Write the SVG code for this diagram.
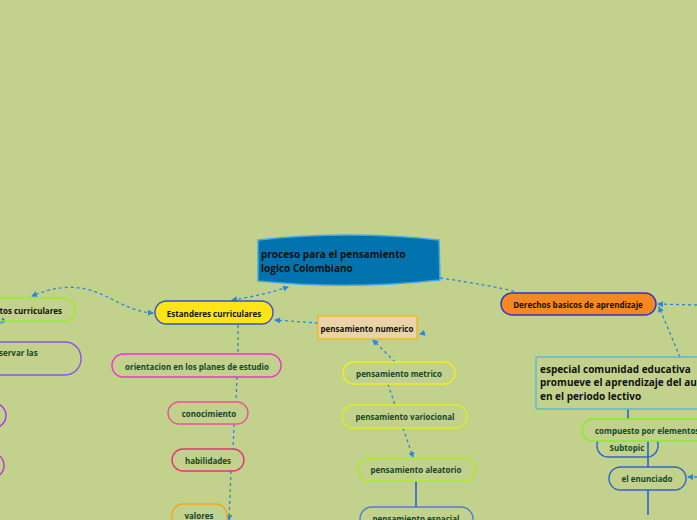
<svg xmlns="http://www.w3.org/2000/svg" width="697" height="520" viewBox="0 0 697 520">
<defs>
<marker id="ar" viewBox="0 0 6 6" refX="5" refY="3" markerWidth="6" markerHeight="6" orient="auto-start-reverse" markerUnits="userSpaceOnUse">
<path d="M0,0 L6,3 L0,6 Z" fill="#2f86d8"/>
</marker>
<style>
.t{font-family:"Open Sans","Noto Sans",sans-serif;font-weight:700;font-size:8px;fill:#17462a;text-anchor:middle;dominant-baseline:central}
.tb{fill:#111}
.big{font-family:"Open Sans","Noto Sans",sans-serif;font-weight:700;font-size:10px;fill:#111}
.n{fill:none;stroke-width:1.4}
.d{fill:none;stroke:#2f86d8;stroke-width:1.3;stroke-dasharray:3,3}
.s{fill:none;stroke:#2d5fd0;stroke-width:1.6}
</style>
</defs>
<rect width="697" height="520" fill="#c2d18c"/>
<g id="connectors">
<path class="d" d="M288,287 Q260,296 232,300" marker-start="url(#ar)" marker-end="url(#ar)"/>
<path class="d" d="M153,313 C110,310 95,270 32,296" marker-start="url(#ar)" marker-end="url(#ar)"/>
<path class="d" d="M238,325 L238,354"/>
<path class="d" d="M237,377 L236,402"/>
<path class="d" d="M234,424 L233,449"/>
<path class="d" d="M231,471 L229,520" marker-end="url(#ar)"/>
<path class="d" d="M318,323 L275,320" marker-end="url(#ar)"/>
<path class="d" d="M395,362 L373,340" marker-end="url(#ar)"/>
<path class="d" d="M388,384 L395,405"/>
<path class="d" d="M403,428 L413,457" marker-end="url(#ar)"/>
<path class="d" d="M424,333 L420,334" marker-end="url(#ar)"/>
<path class="d" d="M440,278 Q490,285 517,292"/>
<path class="d" d="M697,305 L658,304" marker-end="url(#ar)"/>
<path class="d" d="M680,357 L659,307" marker-end="url(#ar)"/>
<path class="d" d="M697,477 L688,477" marker-end="url(#ar)"/>
<path class="d" d="M2,322 L1,323" marker-end="url(#ar)"/>
<path class="s" d="M628,409 L628,419"/>
<path class="s" d="M648,441 L648,467 M648,490 L648,515"/>
<path class="s" d="M416,481 L416,507"/>
</g>
<g id="central">
<path d="M258,240 Q348,230 439,240 L440,280 Q348,290 258,281 Z" fill="#0073ae" stroke="#4aa8e0" stroke-width="1.5"/>
<text class="big" x="261" y="258">proceso para el pensamiento</text>
<text class="big" x="261" y="272">logico Colombiano</text>
</g>
<g id="estanderes">
<rect x="155" y="301" width="118" height="23" rx="11.5" fill="#ffe516" stroke="#3b50c8" stroke-width="1.4"/>
<text class="t tb" x="214" y="313">Estanderes curriculares</text>
</g>
<g id="numerico">
<rect x="318" y="316" width="99" height="23" fill="#e8d4a8" stroke="#f0b820" stroke-width="1.4"/>
<text class="t tb" x="367" y="328">pensamiento numerico</text>
</g>
<g id="derechos">
<rect x="501" y="293" width="155" height="22" rx="11" fill="#f5891f" stroke="#3333cc" stroke-width="1.4"/>
<text class="t tb" x="578" y="304">Derechos basicos de aprendizaje</text>
</g>
<g id="lineamientos">
<rect x="-40" y="298" width="115" height="23" rx="11.5" class="n" stroke="#99ee22"/>
<text class="t tb" x="62" y="310" style="text-anchor:end">tos curriculares</text>
</g>
<g id="observar">
<rect x="-60" y="342" width="141" height="33" rx="16" class="n" stroke="#8855dd"/>
<text class="t" x="-1" y="352" style="text-anchor:start">servar las</text>
</g>
<g id="left1">
<rect x="-60" y="403" width="66" height="25" rx="12.5" class="n" stroke="#aa33ee"/>
</g>
<g id="left2">
<rect x="-60" y="453" width="64" height="25" rx="12.5" class="n" stroke="#bb33dd"/>
</g>
<g id="orientacion">
<rect x="112" y="354" width="169" height="23" rx="11.5" class="n" stroke="#ee33cc"/>
<text class="t" x="197" y="366">orientacion en los planes de estudio</text>
</g>
<g id="conocimiento">
<rect x="168" y="402" width="80" height="22" rx="11" class="n" stroke="#e8559f"/>
<text class="t" x="209" y="413">conocimiento</text>
</g>
<g id="habilidades">
<rect x="172" y="449" width="72" height="22" rx="11" class="n" stroke="#e83377"/>
<text class="t" x="208" y="460">habilidades</text>
</g>
<g id="valores">
<rect x="172" y="504" width="55" height="26" rx="11" class="n" stroke="#f5a623"/>
<text class="t" x="199" y="515">valores</text>
</g>
<g id="metrico">
<rect x="343" y="362" width="112" height="22" rx="11" class="n" stroke="#eeee22"/>
<text class="t" x="399" y="373">pensamiento metrico</text>
</g>
<g id="variocional">
<rect x="342" y="405" width="125" height="23" rx="11.5" class="n" stroke="#ddee22"/>
<text class="t" x="405" y="416">pensamiento variocional</text>
</g>
<g id="aleatorio">
<rect x="358" y="458" width="117" height="23" rx="11.5" class="n" stroke="#aaee22"/>
<text class="t" x="416" y="469">pensamiento aleatorio</text>
</g>
<g id="espacial">
<rect x="360" y="507" width="113" height="30" rx="12" class="n" stroke="#5577dd"/>
<text class="t" x="416" y="518">pensamiento espacial</text>
</g>
<g id="especial">
<rect x="536" y="357" width="170" height="52" rx="2" class="n" stroke="#55bbdd"/>
<text class="big" x="540" y="373">especial comunidad educativa</text>
<text class="big" x="540" y="386">promueve el aprendizaje del aula</text>
<text class="big" x="540" y="400">en el periodo lectivo</text>
</g>
<g id="subtopic">
<rect x="597" y="433" width="61" height="24" rx="11" class="n" stroke="#3366cc"/>
<text class="t" x="627" y="447">Subtopic</text>
</g>
<g id="compuesto">
<rect x="582" y="419" width="125" height="22" rx="11" fill="#c2d18c" stroke="#88ee22" stroke-width="1.4"/>
<text class="t" x="595" y="430" style="text-anchor:start">compuesto por elementos</text>
</g>
<g id="enunciado">
<rect x="609" y="467" width="77" height="23" rx="11.5" class="n" stroke="#3366cc"/>
<text class="t" x="647" y="478">el enunciado</text>
</g>
</svg>
